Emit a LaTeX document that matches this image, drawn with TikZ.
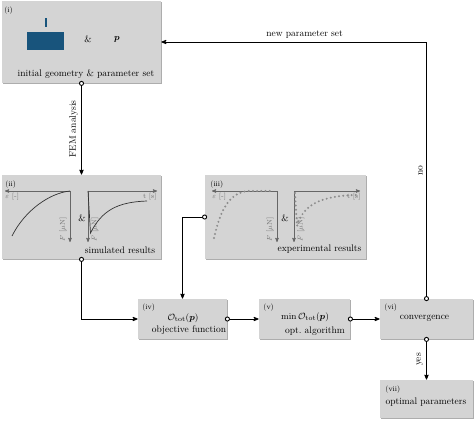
\documentclass[tikz,border=0pt]{standalone}
\usepackage{amsmath}
\usepackage{amssymb}
\usepackage{tikz}
\usetikzlibrary{arrows}
\usetikzlibrary{arrows.meta}
\usetikzlibrary{shadows}

\definecolor{geoblue}{RGB}{24,84,124}

\begin{document}
\begin{tikzpicture}[->,>=stealth',x=1pt,y=-1pt,thick,
	font=\fontsize{9.5}{11}\selectfont,
	main box/.style={rectangle, fill=black!17, draw=none, inner sep=0pt,
		drop shadow={shadow xshift=1pt, shadow yshift=-1pt, fill=black!32, opacity=1}},
	index label/.style={anchor=north west, inner sep=0pt, font=\fontsize{7.5}{9}\selectfont},
	axis label/.style={inner sep=0pt, text=black!55, font=\fontsize{7}{8}\selectfont},
	plot axis/.style={->, draw=black!60, line width=0.6pt},
	sim curve/.style={-, draw=black!80, line width=0.7pt},
	exp dots/.style={-, draw=black!45, line width=2.2pt, line cap=round, dash pattern=on 0pt off 4.2pt},
	flow/.style={{Circle[open, length=5pt, width=5pt, line width=0.9pt, fill=white]}->, line width=0.8pt, shorten <=-2.5pt}]
	
	\useasboundingbox (0,0) rectangle (474,423);
	
	% boxes
	\node[main box, minimum width=159pt, minimum height=82pt] (1) at (81.5,42) {};
	\node[main box, minimum width=159pt, minimum height=84pt] (2) at (81.5,217) {};
	\node[main box, minimum width=161pt, minimum height=84pt] (3) at (285.5,217) {};
	\node[main box, minimum width=89pt, minimum height=40pt] (4) at (182.5,319) {};
	\node[main box, minimum width=91pt, minimum height=40pt] (5) at (304.5,319) {};
	\node[main box, minimum width=93pt, minimum height=40pt] (6) at (426.5,319) {};
	\node[main box, minimum width=93pt, minimum height=38pt] (7) at (426.5,399) {};
	
	% (i) initial geometry
	\node[index label] at (4,6) {(i)};
	\fill[geoblue] (27,32) rectangle (64,50);
	\fill[geoblue] (45,18) rectangle (46.6,27);
	\node at (88,39) {\&};
	\node at (117,39) {$\boldsymbol{p}$};
	\node at (86,74) {initial geometry \& parameter set};
	
	% (ii) simulated results
	\node[index label] at (5,180) {(ii)};
	\draw[plot axis] (70,191) -- (5,191);
	\draw[plot axis] (70,191) -- (70,242);
	\draw[plot axis] (88,191) -- (88,242);
	\draw[plot axis] (88,191) -- (157,191);
	\node[axis label, anchor=north west] at (5,193) {$\varepsilon$ [-]};
	\node[axis label, anchor=north east] at (157,193) {t [s]};
	\node[axis label, rotate=90, anchor=south west] at (67,242) {$F$ [$\mu$N]};
	\node[axis label, rotate=90, anchor=north west] at (91,242) {$F$ [$\mu$N]};
	\draw[sim curve] (70,191) .. controls (50,193) and (25,210) .. (12,236);
	\draw[sim curve] (88,191) -- (90.5,233) .. controls (102,210) and (118,202) .. (147,201);
	\node at (82,218) {\&};
	\node at (120,250) {simulated results};
	
	% (iii) experimental results
	\node[index label] at (210,180) {(iii)};
	\draw[plot axis] (277,191) -- (212,191);
	\draw[plot axis] (277,191) -- (277,242);
	\draw[plot axis] (294,191) -- (294,242);
	\draw[plot axis] (294,191) -- (360,191);
	\node[axis label, anchor=north west] at (212,193) {$\varepsilon$ [-]};
	\node[axis label, anchor=north east] at (361,193) {t [s]};
	\node[axis label, rotate=90, anchor=south west] at (274,242) {$F$ [$\mu$N]};
	\node[axis label, rotate=90, anchor=north west] at (297,242) {$F$ [$\mu$N]};
	\draw[exp dots] (214,238) .. controls (220,212) and (228,193) .. (248,191) -- (273,191);
	\draw[exp dots] (295,193) -- (297,226) .. controls (303,205) and (320,196) .. (356,195);
	\node at (285,218) {\&};
	\node at (319.5,249) {experimental results};
	
	% (iv) - (vii)
	\node[index label] at (142,303) {(iv)};
	\node at (183,318) {$\mathcal{O}_{\mathrm{tot}}(\boldsymbol{p})$};
	\node at (189,330) {objective function};
	
	\node[index label] at (263,303) {(v)};
	\node at (305,317) {$\min\mathcal{O}_{\mathrm{tot}}(\boldsymbol{p})$};
	\node at (315,331) {opt.\ algorithm};
	
	\node[index label] at (384,303) {(vi)};
	\node at (424.5,318) {convergence};
	
	\node[index label] at (385,385) {(vii)};
	\node at (426,402) {optimal parameters};
	
	% connections
	\draw[flow] (1) -- (2) node[midway, rotate=90, anchor=south] {FEM analysis};
	\draw[flow] (2.south) |- (4.west);
	\draw[flow] (3.west) -| (4.north);
	\draw[flow] (4) -- (5);
	\draw[flow] (5) -- (6);
	\draw[flow] (6.north) |- (1.east)
		node[pos=0.25, rotate=90, anchor=south] {no}
		node[pos=0.73, above] {new parameter set};
	\draw[flow] (6) -- (7) node[midway, rotate=90, anchor=south] {yes};
\end{tikzpicture}
\end{document}
